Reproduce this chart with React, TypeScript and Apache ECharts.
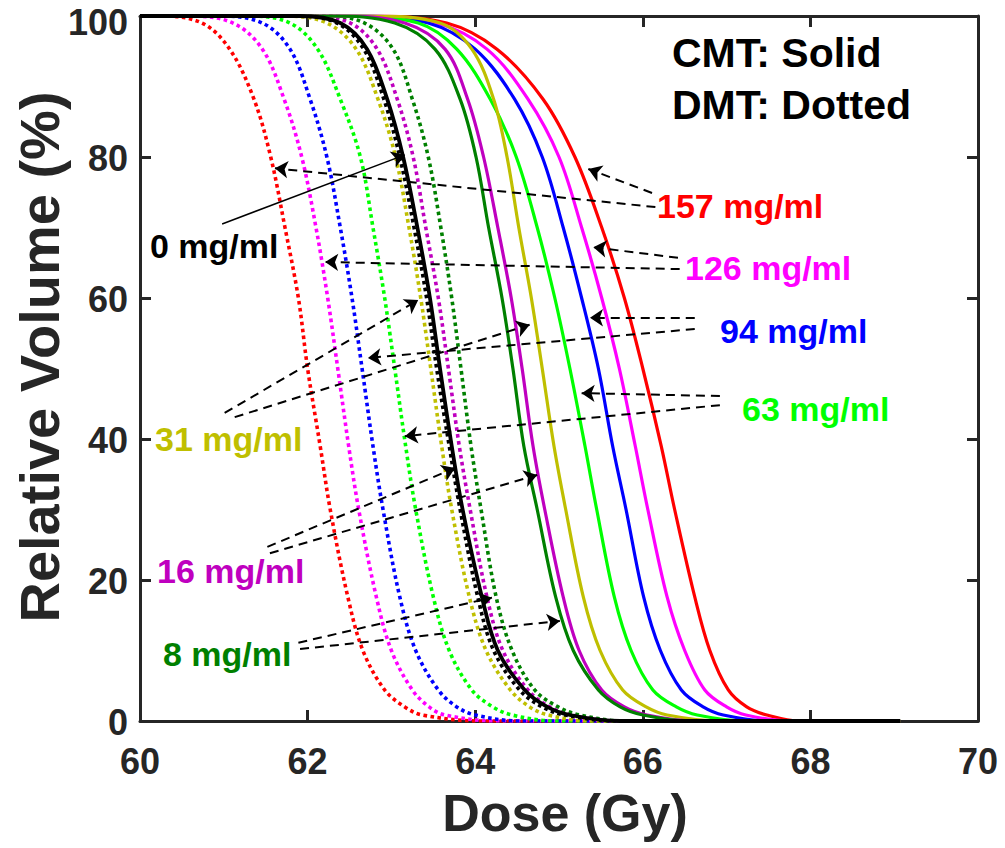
import React, { useEffect, useRef } from 'react';
import * as echarts from 'echarts';

// Relative volume levels (%) at which each curve's dose was read
const VOLUME_LEVELS = [100, 99, 95.3, 88.2, 80, 70, 60, 50, 39, 30, 17.6, 10, 4.4, 2, 0.85, 0];
const DOSE_MIN = 60;
const DOSE_MAX = 70;
const DOSE_TAIL = 69.07;
const X_TICKS_INTERVAL = 2;
const Y_TICKS_INTERVAL = 20;

// CMT (solid) curves: dose (Gy) at each volume level
const cmt0 = [61.91, 62.39, 62.71, 62.95, 63.14, 63.31, 63.46, 63.58, 63.72, 63.85, 64.08, 64.27, 64.59, 64.86, 65.13, 65.73];
const cmt8 = [62.27, 63.04, 63.52, 63.82, 64.01, 64.16, 64.32, 64.45, 64.58, 64.74, 64.96, 65.17, 65.47, 65.73, 66.0, 66.56];
const cmt16 = [62.39, 63.16, 63.64, 63.91, 64.1, 64.27, 64.43, 64.56, 64.69, 64.83, 65.05, 65.24, 65.51, 65.78, 66.05, 66.62];
const cmt31 = [62.74, 63.58, 63.96, 64.22, 64.38, 64.52, 64.67, 64.8, 64.94, 65.08, 65.29, 65.49, 65.76, 66.04, 66.29, 66.92];
const cmt63 = [62.45, 63.32, 63.78, 64.18, 64.49, 64.74, 64.95, 65.13, 65.31, 65.45, 65.66, 65.86, 66.12, 66.4, 66.65, 67.22];
const cmt94 = [62.57, 63.44, 64.0, 64.47, 64.8, 65.05, 65.27, 65.47, 65.64, 65.8, 66.01, 66.21, 66.46, 66.72, 66.96, 67.52];
const cmt126 = [62.63, 63.54, 64.14, 64.63, 65.0, 65.27, 65.51, 65.72, 65.91, 66.06, 66.29, 66.5, 66.74, 67.0, 67.23, 67.76];
const cmt157 = [62.74, 63.66, 64.26, 64.81, 65.19, 65.51, 65.78, 66.0, 66.22, 66.38, 66.62, 66.8, 67.02, 67.24, 67.48, 67.88];

// DMT (dotted) curves
const dmt0 = [61.89, 62.35, 62.67, 62.91, 63.1, 63.27, 63.42, 63.54, 63.69, 63.82, 64.03, 64.22, 64.53, 64.8, 65.07, 65.67];
const dmt8 = [62.21, 62.68, 63.02, 63.25, 63.44, 63.59, 63.72, 63.83, 63.95, 64.07, 64.25, 64.44, 64.71, 64.99, 65.25, 65.79];
const dmt16 = [62.03, 62.51, 62.83, 63.07, 63.26, 63.41, 63.56, 63.68, 63.81, 63.94, 64.14, 64.33, 64.63, 64.89, 65.16, 65.73];
const dmt31 = [61.73, 62.23, 62.58, 62.84, 63.05, 63.21, 63.35, 63.47, 63.6, 63.72, 63.93, 64.13, 64.42, 64.65, 64.87, 65.37];
const dmt63 = [61.31, 61.79, 62.12, 62.39, 62.63, 62.78, 62.92, 63.04, 63.17, 63.29, 63.5, 63.69, 63.96, 64.21, 64.44, 64.95];
const dmt94 = [60.95, 61.46, 61.79, 62.03, 62.23, 62.39, 62.53, 62.65, 62.78, 62.9, 63.1, 63.29, 63.56, 63.78, 64.0, 64.53];
const dmt126 = [60.6, 61.11, 61.46, 61.72, 61.93, 62.1, 62.24, 62.36, 62.49, 62.61, 62.82, 63.0, 63.25, 63.45, 63.64, 64.26];
const dmt157 = [60.24, 60.74, 61.07, 61.36, 61.56, 61.73, 61.89, 62.0, 62.15, 62.27, 62.48, 62.66, 62.92, 63.16, 63.37, 64.06];

const COLORS = {
  c0: '#000000',
  c8: '#008000',
  c16: '#BF00BF',
  c31: '#BFBF00',
  c63: '#00FF00',
  c94: '#0000FF',
  c126: '#FF00FF',
  c157: '#FF0000',
};

// Annotation arrows: [from (label side), to (arrow tip)] in data coordinates (dose, volume)
const dashedArrows: [number, number][][] = [
  [[66.15, 72.9], [61.61, 78.4]],
  [[66.11, 74.9], [65.35, 78.3]],
  [[66.44, 64.1], [62.21, 65.1]],
  [[66.42, 65.7], [65.41, 67.2]],
  [[66.62, 57.2], [65.37, 57.2]],
  [[66.62, 55.6], [62.72, 51.5]],
  [[66.92, 46.1], [65.27, 46.5]],
  [[66.92, 44.8], [63.16, 40.4]],
  [[61.01, 43.7], [63.32, 59.7]],
  [[61.13, 43.1], [64.65, 56.2]],
  [[61.52, 24.7], [63.76, 35.9]],
  [[61.55, 23.8], [64.74, 34.9]],
  [[61.89, 11.1], [64.2, 17.5]],
  [[61.91, 10.2], [65.01, 14.2]],
];
const solidArrows: [number, number][][] = [[[60.98, 70.5], [63.16, 80.3]]];

const FONT = '"Liberation Sans", Arial, Helvetica, sans-serif';
const AXIS_COLOR = '#262626';

function curve(doses: number[]): number[][] {
  return [[DOSE_MIN, 100], ...doses.map((d, i) => [d, VOLUME_LEVELS[i]]), [DOSE_TAIL, 0]];
}

function lineSeries(name: string, doses: number[], color: string, dotted: boolean, z: number, width = 3.2) {
  return {
    name,
    type: 'line',
    data: curve(doses),
    showSymbol: false,
    symbol: 'none',
    smooth: 0.35,
    silent: true,
    z,
    lineStyle: dotted
      ? { color, width: 3.6, type: [3.6, 3.4], cap: 'butt' }
      : { color, width, type: 'solid' },
  };
}

function label(text: string, x: number, y: number, color: string, size = 34) {
  return {
    type: 'text',
    x,
    y,
    z: 20,
    silent: true,
    style: {
      text,
      fill: color,
      fontSize: size,
      fontWeight: 'bold',
      fontFamily: FONT,
      align: 'left',
      verticalAlign: 'middle',
    },
  };
}

export default function App() {
  const ref = useRef<HTMLDivElement>(null);
  useEffect(() => {
    const chart = echarts.init(ref.current!, null, { renderer: 'svg' });
    const axisCommon = {
      type: 'value',
      splitLine: { show: false },
      axisLine: { show: true, onZero: false, lineStyle: { color: AXIS_COLOR, width: 3 } },
      axisTick: { show: true, inside: true, length: 11, lineStyle: { color: AXIS_COLOR, width: 3 } },
    };
    const tickLabel = {
      color: AXIS_COLOR,
      fontSize: 36,
      fontWeight: 'bold',
      fontFamily: FONT,
    };
    const option = {
      animation: false,
      backgroundColor: '#ffffff',
      grid: { left: 140, right: 27, top: 16, bottom: 127, containLabel: false },
      xAxis: [
        {
          ...axisCommon,
          position: 'bottom',
          min: DOSE_MIN,
          max: DOSE_MAX,
          interval: X_TICKS_INTERVAL,
          axisLabel: { ...tickLabel, margin: 22 },
        },
        {
          ...axisCommon,
          position: 'top',
          min: DOSE_MIN,
          max: DOSE_MAX,
          interval: X_TICKS_INTERVAL,
          axisLabel: { show: false },
        },
      ],
      yAxis: [
        {
          ...axisCommon,
          position: 'left',
          min: 0,
          max: 100,
          interval: Y_TICKS_INTERVAL,
          axisLabel: {
            ...tickLabel,
            margin: 12,
            padding: [3, 0, 0, 0],
            formatter: (v: number) => (v === 100 ? `{top|${v}}` : `${v}`),
            rich: {
              top: { ...tickLabel, padding: [9, 0, 0, 0] },
            },
          },
        },
        {
          ...axisCommon,
          position: 'right',
          min: 0,
          max: 100,
          interval: Y_TICKS_INTERVAL,
          axisLabel: { show: false },
        },
      ],
      series: [
        lineSeries('DMT 157 mg/ml', dmt157, COLORS.c157, true, 2),
        lineSeries('DMT 126 mg/ml', dmt126, COLORS.c126, true, 2),
        lineSeries('DMT 94 mg/ml', dmt94, COLORS.c94, true, 2),
        lineSeries('DMT 63 mg/ml', dmt63, COLORS.c63, true, 2),
        lineSeries('DMT 31 mg/ml', dmt31, COLORS.c31, true, 2),
        lineSeries('DMT 0 mg/ml', dmt0, COLORS.c0, true, 2),
        lineSeries('DMT 16 mg/ml', dmt16, COLORS.c16, true, 2),
        lineSeries('DMT 8 mg/ml', dmt8, COLORS.c8, true, 2),
        lineSeries('CMT 157 mg/ml', cmt157, COLORS.c157, false, 3),
        lineSeries('CMT 126 mg/ml', cmt126, COLORS.c126, false, 3),
        lineSeries('CMT 94 mg/ml', cmt94, COLORS.c94, false, 3),
        lineSeries('CMT 63 mg/ml', cmt63, COLORS.c63, false, 3),
        lineSeries('CMT 31 mg/ml', cmt31, COLORS.c31, false, 3),
        lineSeries('CMT 16 mg/ml', cmt16, COLORS.c16, false, 3),
        lineSeries('CMT 8 mg/ml', cmt8, COLORS.c8, false, 3),
        lineSeries('CMT 0 mg/ml', cmt0, COLORS.c0, false, 4, 3.8),
        {
          name: 'dashed arrows',
          type: 'lines',
          coordinateSystem: 'cartesian2d',
          silent: true,
          z: 6,
          symbol: ['none', 'arrow'],
          symbolSize: 13,
          lineStyle: { color: '#000', width: 2, type: [9, 6], opacity: 1 },
          data: dashedArrows.map((c) => ({ coords: c })),
        },
        {
          name: 'solid arrow',
          type: 'lines',
          coordinateSystem: 'cartesian2d',
          silent: true,
          z: 6,
          symbol: ['none', 'arrow'],
          symbolSize: 13,
          lineStyle: { color: '#000', width: 1.5, type: 'solid', opacity: 1 },
          data: solidArrows.map((c) => ({ coords: c })),
        },
      ],
      graphic: [
        label('CMT: Solid', 672, 53, '#000', 41),
        label('DMT: Dotted', 672, 105, '#000', 41),
        label('157 mg/ml', 657, 206, COLORS.c157),
        label('126 mg/ml', 685, 268, COLORS.c126),
        label('94 mg/ml', 720, 331, COLORS.c94),
        label('63 mg/ml', 742, 409, COLORS.c63),
        label('31 mg/ml', 155, 439, COLORS.c31),
        label('16 mg/ml', 157, 571, COLORS.c16),
        label('8 mg/ml', 163, 654, COLORS.c8),
        label('0 mg/ml', 150, 246, COLORS.c0),
        {
          type: 'text',
          x: 565,
          y: 813,
          z: 20,
          silent: true,
          style: {
            text: 'Dose (Gy)',
            fill: AXIS_COLOR,
            fontSize: 52,
            fontWeight: 'bold',
            fontFamily: FONT,
            align: 'center',
            verticalAlign: 'middle',
          },
        },
        {
          type: 'text',
          x: 39,
          y: 357,
          rotation: Math.PI / 2,
          z: 20,
          silent: true,
          style: {
            text: 'Relative Volume (%)',
            fill: AXIS_COLOR,
            fontSize: 56,
            fontWeight: 'bold',
            fontFamily: FONT,
            align: 'center',
            verticalAlign: 'middle',
          },
        },
      ],
    };
    chart.setOption(option as any);
    return () => chart.dispose();
  }, []);
  return (
    <div
      ref={ref}
      style={{ position: 'fixed', left: 0, top: 0, width: 1005, height: 848, background: '#fff' }}
    />
  );
}
